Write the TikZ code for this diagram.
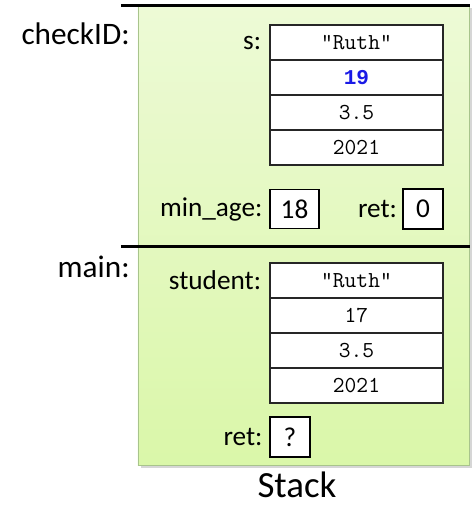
\documentclass[tikz,border=0pt]{standalone}
\usepackage{fontspec}
\setmainfont{Carlito}
\newfontfamily\boldmono{Liberation Mono}
\usetikzlibrary{positioning}
\definecolor{FrameTop}{HTML}{EDFAD6}
\definecolor{FrameLow}{HTML}{DAF7A9}
\definecolor{FrameEdge}{HTML}{A8C48C}
\definecolor{ShadowSoft}{HTML}{D6D6D6}
\definecolor{ValBlue}{HTML}{1A1AE6}

\begin{document}
\begin{tikzpicture}[x=0.02cm,y=-0.02cm,cell/.style={draw=black!85,fill=white,line width=0.8pt,minimum width=3.46cm,minimum height=0.7cm,inner sep=0pt,font=\ttfamily\fontsize{13}{15}\selectfont},valbox/.style={draw=black,fill=white,line width=0.8pt,minimum height=0.78cm,inner sep=0pt,font=\fontsize{15.5}{17}\selectfont},lbl/.style={inner sep=0pt,font=\fontsize{15.5}{17}\selectfont},frame/.style={font=\fontsize{17.8}{20}\selectfont,inner sep=0pt}]
\useasboundingbox (0,0) rectangle (474,529);
\fill[ShadowSoft] (141,8) rectangle (472,468);
\shade[top color=FrameTop,bottom color=FrameLow,draw=FrameEdge,line width=0.5pt] (138,5) rectangle (469,465);
\draw[line width=1.7pt] (121,5) -- (470,5);
\draw[line width=1.7pt] (121,246) -- (470,246);
% frame names
\node[frame,anchor=base east] (fcheck) at (130,44){checkID:};
\node[frame,anchor=base east] (fmain) at (130,277){main:};
% struct in checkID
\foreach \i/\y/\v in {1/42.5/{“Ruth”},2/77.5/{\boldmono\fontsize{12}{14}\selectfont\bfseries\textcolor{ValBlue}{19}},3/112.5/{3.5},4/147.5/{2021}}{
\node[cell] (s\i) at (356.5,\y){\v};
}
\node[lbl,left=4.5pt of s1] (slbl){s:};
\node[valbox,minimum width=0.98cm] (minage) at (294.5,209){18};
\node[lbl,left=0.13cm of minage] (minlbl){min\_age:};
\node[valbox,minimum width=0.8cm,minimum height=0.8cm] (cret) at (423,209){0};
\node[lbl,left=0.1cm of cret] (cretlbl){ret:};
% struct in main
\foreach \i/\y/\v in {1/280.5/{“Ruth”},2/315.5/{17},3/350.5/{3.5},4/385.5/{2021}}{
\node[cell] (st\i) at (356.5,\y){\v};
}
\node[lbl,left=4.5pt of st1] (stlbl){student:};
\node[valbox,minimum width=0.8cm,minimum height=0.8cm] (mret) at (290,437){?};
\node[lbl,left=0.13cm of mret] (mretlbl){ret:};
\node[anchor=base,inner sep=0pt,font=\fontsize{21}{24}\selectfont] (stack) at (297,497){Stack};
\end{tikzpicture}
\end{document}
